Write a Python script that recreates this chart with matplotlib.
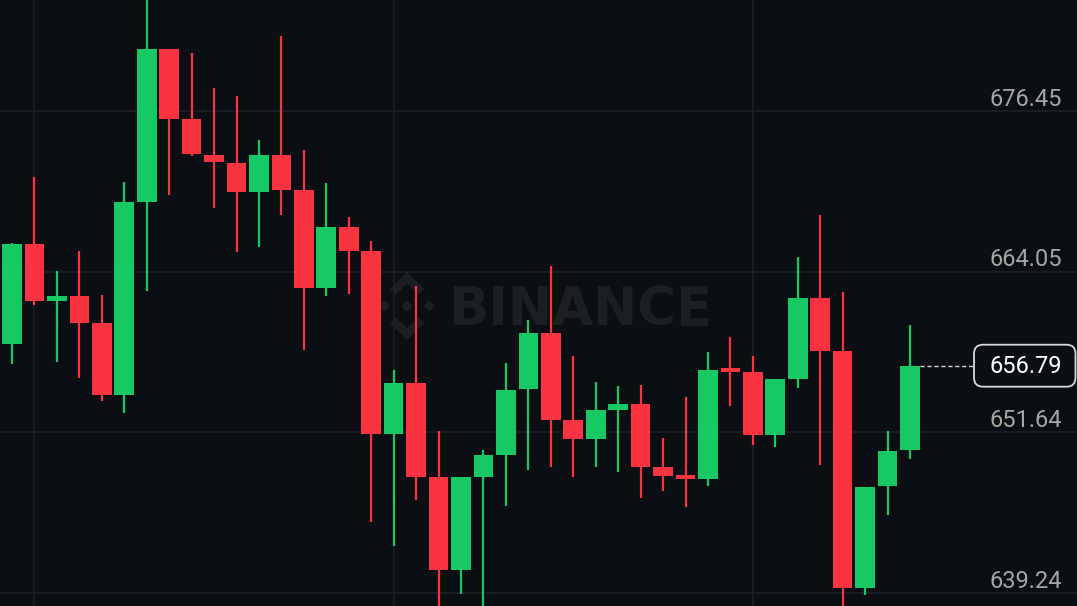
import numpy as np
import matplotlib
matplotlib.use("Agg")
import matplotlib.pyplot as plt
import matplotlib.patches as mpatches

# ── data ──────────────────────────────────────────────────────────────────────
opens = [658.49, 666.21, 661.77, 662.19, 660.10, 654.55, 669.44, 681.25, 675.85, 673.08,
         672.45, 670.21, 673.02, 670.36, 662.75, 667.47, 665.62, 651.50, 655.44, 648.16,
         641.00, 648.19, 649.89, 654.96, 659.32, 652.58, 651.11, 653.38, 653.80, 648.97,
         648.25, 648.04, 656.49, 656.31, 651.41, 655.74, 662.04, 657.92, 639.60, 647.50,
         650.25]
highs = [666.27, 671.38, 664.07, 665.65, 662.28, 670.96, 686.00, 681.25, 680.96, 678.24,
         677.64, 674.21, 682.21, 673.44, 670.87, 668.27, 666.39, 656.49, 662.96, 651.77,
         648.16, 650.28, 657.00, 660.34, 664.45, 657.50, 655.56, 655.20, 655.29, 651.23,
         654.40, 657.83, 659.00, 657.56, 655.74, 665.20, 668.45, 662.45, 647.45, 651.77,
         659.95]
lows = [656.93, 661.47, 657.08, 655.86, 654.10, 653.11, 662.57, 669.97, 672.96, 668.99,
        665.59, 665.92, 668.39, 657.98, 662.16, 662.31, 644.70, 642.85, 646.46, 637.50,
        639.15, 637.50, 645.95, 648.73, 649.00, 648.16, 649.00, 648.58, 646.55, 647.15,
        645.92, 647.53, 653.65, 650.67, 650.52, 655.05, 649.14, 637.80, 639.06, 645.24,
        649.59]
closes = [666.21, 661.77, 662.19, 660.10, 654.55, 669.44, 681.25, 675.85, 673.11, 672.51,
          670.21, 673.02, 670.36, 662.75, 667.47, 665.62, 651.50, 655.47, 648.19, 641.00,
          648.16, 649.89, 654.93, 659.32, 652.61, 651.11, 653.38, 653.80, 648.97, 648.28,
          648.04, 656.49, 656.31, 651.41, 655.74, 662.04, 657.92, 639.60, 647.45, 650.19,
          656.79]

grid_prices = [676.45, 664.05, 651.64, 639.24]
grid_labels = ["676.45", "664.05", "651.64", "639.24"]
vgrid_idx = [1, 17, 33]
last_price = 656.79
last_label = "656.79"

# ── style ─────────────────────────────────────────────────────────────────────
W, H = 1077, 606
BG = "#0b0e12"
GRID = "#1d2127"
UP = "#17c964"
DOWN = "#f9333f"
LABEL = "#a2a7a2"
WM = "#1b1e23"

fig = plt.figure(figsize=(W / 100, H / 100), dpi=100, facecolor=BG)

# background layer (watermark) in pixel coords
bg_ax = fig.add_axes([0, 0, 1, 1], zorder=0)
bg_ax.set_xlim(0, W)
bg_ax.set_ylim(H, 0)
bg_ax.set_facecolor(BG)
bg_ax.set_axis_off()

# Binance logo, rough
cx, cy, s = 407, 306, 34
def diamond(x0, y0, r):
    return mpatches.Polygon([(x0, y0 - r), (x0 + r, y0), (x0, y0 + r), (x0 - r, y0)],
                            closed=True, facecolor=WM, edgecolor="none")
bg_ax.add_patch(diamond(cx, cy, 0.17 * s))
bg_ax.add_patch(diamond(cx - 0.66 * s, cy, 0.17 * s))
bg_ax.add_patch(diamond(cx + 0.66 * s, cy, 0.17 * s))
for sgn in (-1, 1):
    pts = [(0, 1), (0.5, 0.5), (0.33, 0.33), (0, 0.66), (-0.33, 0.33), (-0.5, 0.5)]
    bg_ax.add_patch(mpatches.Polygon([(cx + px * s, cy + sgn * py * s) for px, py in pts],
                                     closed=True, facecolor=WM, edgecolor="none"))
bg_ax.text(448, 325, "BINANCE", color=WM, fontsize=38, fontweight="bold",
           family="DejaVu Sans", ha="left", va="baseline")

# ── candles ───────────────────────────────────────────────────────────────────
ax = fig.add_axes([0, 0, 1, 1], zorder=1)
ax.set_facecolor("none")

step = 22.45
x_left = -12 / step
ax.set_xlim(x_left, x_left + W / step)
px_per = 12.955
ax.set_ylim(676.45 - (H - 111) / px_per, 676.45 + 111 / px_per)

for p in grid_prices:
    ax.axhline(p, color=GRID, lw=1.2, zorder=0)
for i in vgrid_idx:
    ax.axvline(i, color=GRID, lw=1.2, zorder=0)

x = np.arange(len(opens))
o = np.array(opens)
c = np.array(closes)
colors = [UP if cc >= oo else DOWN for oo, cc in zip(o, c)]
ax.vlines(x, lows, highs, colors=colors, lw=1.6, zorder=2)
bottoms = np.minimum(o, c)
heights = np.maximum(np.abs(c - o), 0.3)
ax.bar(x, heights, bottom=bottoms, width=0.875, color=colors, linewidth=0, zorder=3)

for p, lab in zip(grid_prices, grid_labels):
    ax.annotate(lab, xy=(1, p), xycoords=("axes fraction", "data"),
                xytext=(-10.8, 3.8), textcoords="offset points",
                ha="right", va="baseline", color=LABEL, fontsize=17,
                family="Roboto", annotation_clip=False)

# last price dashed line
ax.plot([len(opens) - 1 + 0.44, (973 - 12) / step], [last_price, last_price],
        color="#cfd3d6", lw=1, ls=(0, (3, 2)), zorder=4)

ax.set_axis_off()

# ── price tag overlay ─────────────────────────────────────────────────────────
top_ax = fig.add_axes([0, 0, 1, 1], zorder=2)
top_ax.set_xlim(0, W)
top_ax.set_ylim(H, 0)
top_ax.set_facecolor("none")
top_ax.set_axis_off()
y_last = 111 + (676.45 - last_price) * px_per
tag = mpatches.FancyBboxPatch((974, y_last - 21), 101.5, 42,
                              boxstyle="round,pad=0,rounding_size=9",
                              facecolor=BG, edgecolor="#d6dad6", lw=1.3)
top_ax.add_patch(tag)
top_ax.text(1062, y_last + 1, last_label, color="white", fontsize=17,
            family="Roboto", ha="right", va="center")

fig.savefig("out.png", dpi=100, facecolor=BG)
